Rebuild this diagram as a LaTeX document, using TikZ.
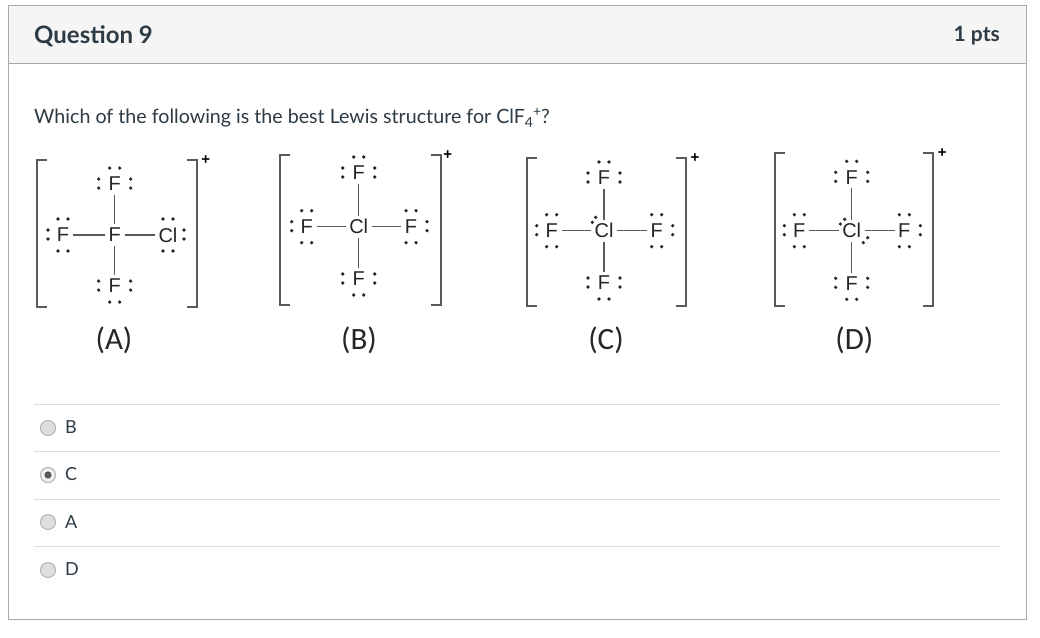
\documentclass[tikz,border=0pt]{standalone}
\usepackage{fontspec}
\setmainfont{Lato}
\newfontfamily\atomfont{Liberation Sans}
\newfontfamily\capfont{Carlito}
\usetikzlibrary{positioning}

\definecolor{framegray}{HTML}{A9A9A9}
\definecolor{headgray}{HTML}{F5F5F5}
\definecolor{rulegray}{HTML}{DDDDDD}
\definecolor{inkgray}{HTML}{2D3B45}
\definecolor{bondgray}{HTML}{5A5A5A}

\newcommand{\pairsat}[2]{\foreach \dx/\dy in #2 {\fill[black!85] ([shift={(\dx,\dy)}]#1.center) circle (1.8);}}
\newcommand{\ionbracket}[4]{\draw[bracket] (#1+10,#3) -| (#1,#4) -- ++(10,0); \draw[bracket] (#2-10,#3) -| (#2,#4) -- ++(-10,0);}

\def\pairstop{-5/-16,5/-16,-16/-5,-16/4,16/-5,16/4}
\def\pairsbot{-5/16,5/16,-16/-5,-16/4,16/-5,16/4}
\def\pairsleft{-5/-16,5/-16,-5/16,5/16,-15/-5,-15/4}
\def\pairsright{-5/-16,5/-16,-5/16,5/16,16/-5,16/4}

\begin{document}
\begin{tikzpicture}[
	x=1pt, y=-1pt,
	atom/.style={inner sep=3.5pt, font=\atomfont\fontsize{20}{20}\selectfont, text=black!85},
	bond/.style={draw=bondgray, line width=1.2pt},
	bracket/.style={draw=bondgray, line width=1.7pt},
	charge/.style={inner sep=0pt, font=\atomfont\bfseries\fontsize{15}{15}\selectfont},
	caption/.style={inner sep=0pt, font=\capfont\fontsize{31}{31}\selectfont, text=black!85},
	title/.style={anchor=west, inner sep=0pt, text=inkgray},
	answer/.style={anchor=west, inner sep=0pt, text=inkgray, font=\fontsize{18}{18}\selectfont},
	radio/.style={circle, minimum size=15pt, inner sep=0pt, draw=black!30, line width=1pt, fill=black!13},
	sep/.style={draw=rulegray, line width=1pt}
	]

	\useasboundingbox (0,0) rectangle (1040,637);
	\fill[white] (0,0) rectangle (1040,637);
	\fill[headgray] (8.5,5.5) rectangle (1026.5,63.5);
	\draw[framegray, line width=1pt] (8.5,5.5) rectangle (1026.5,619.5);
	\draw[framegray, line width=1pt] (8.5,63.5) -- (1026.5,63.5);

	\node (qtitle) [title, font=\bfseries\fontsize{24}{24}\selectfont] at (34,36) {Question 9};
	\node (qpts) [title, anchor=east, font=\bfseries\fontsize{21}{21}\selectfont] at (1000,36) {1 pts};
	\node (qtext) [title, font=\fontsize{19.65}{20}\selectfont] at (34,118) {Which of the following is the best Lewis structure for ClF\raisebox{-3.5pt}{\fontsize{14}{14}\selectfont 4}\raisebox{7pt}{\fontsize{14}{14}\selectfont +}?};

	% structure A
	\node (mida) [atom] at (114.7,235) {F};
	\node (topa) [atom] at (114.7,184) {F};
	\node (bota) [atom] at (114.7,286) {F};
	\node (lefta) [atom] at (63,235) {F};
	\node (righta) [atom] at (168,235) {Cl};
	\ionbracket{37}{196.7}{160}{306.7}
	\node (pluza) [charge] at (205.7,160) {+};
	\node (capa) [caption] at (114,340) {(A)};

	% structure B
	\node (midb) [atom] at (358.7,226.7) {Cl};
	\node (topb) [atom] at (358.7,173) {F};
	\node (botb) [atom] at (358.7,279) {F};
	\node (leftb) [atom] at (306.7,226.7) {F};
	\node (rightb) [atom] at (411,226.7) {F};
	\ionbracket{280}{440.7}{155}{305}
	\node (pluzb) [charge] at (447.7,155) {+};
	\node (capb) [caption] at (359,340) {(B)};

	% structure C
	\node (midc) [atom] at (604,230.7) {Cl};
	\node (topc) [atom] at (604,178) {F};
	\node (botc) [atom] at (604,283) {F};
	\node (leftc) [atom] at (551.7,230.7) {F};
	\node (rightc) [atom] at (656.7,230.7) {F};
	\ionbracket{527.3}{685.7}{158.3}{305.7}
	\node (pluzc) [charge] at (695,158) {+};
	\node (capc) [caption] at (606,340) {(C)};

	% structure D
	\node (midd) [atom] at (851.7,230.7) {Cl};
	\node (topd) [atom] at (851.7,177.3) {F};
	\node (botd) [atom] at (851.7,283.3) {F};
	\node (leftd) [atom] at (799.3,230.7) {F};
	\node (rightd) [atom] at (904.3,230.7) {F};
	\ionbracket{775}{932.7}{152.7}{305.7}
	\node (pluzd) [charge] at (942.3,152.7) {+};
	\node (capd) [caption] at (854.3,340) {(D)};

	\foreach \s in {a,b,c,d} {
		\draw[bond] (top\s) -- (mid\s);
		\draw[bond] (bot\s) -- (mid\s);
		\draw[bond] (left\s) -- (mid\s);
		\draw[bond] (right\s) -- (mid\s);
		\pairsat{top\s}{\pairstop}
		\pairsat{bot\s}{\pairsbot}
		\pairsat{left\s}{\pairsleft}
		\pairsat{right\s}{\pairsright}
	}

	% extra dots on the middle atom
	\pairsat{midc}{{-8.3/-13.4,-11.7/-8.4}}
	\pairsat{midd}{{-7/-11.4,-11.4/-6.7,16/7,11.6/12}}

	% choices
	\draw[sep] (34,404.5) -- (1000,404.5);
	\draw[sep] (34,451.5) -- (1000,451.5);
	\draw[sep] (34,499.5) -- (1000,499.5);
	\draw[sep] (34,546.5) -- (1000,546.5);

	\node (radiob) [radio] at (48,428) {};
	\node (radioc) [radio, fill=black!6] at (48,475) {};
	\fill[black!65] (radioc.center) circle (3.6);
	\node (radioa) [radio] at (48,522) {};
	\node (radiod) [radio] at (48,570) {};

	\node (ansb) [answer] at (65,427) {B};
	\node (ansc) [answer] at (65,474) {C};
	\node (ansa) [answer] at (65,522) {A};
	\node (ansd) [answer] at (65,569) {D};

\end{tikzpicture}
\end{document}
